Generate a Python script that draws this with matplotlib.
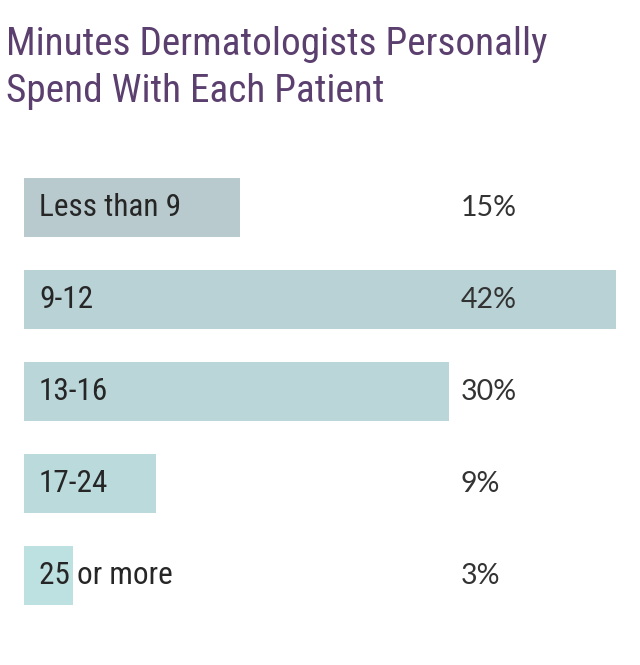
import matplotlib
matplotlib.use("Agg")
import matplotlib.pyplot as plt
from matplotlib import font_manager as fm

categories = ["Less than 9", "9-12", "13-16", "17-24", "25 or more"]
values = [15, 42, 30, 9, 3]
value_labels = ["15%", "42%", "30%", "9%", "3%"]
bar_colors = ["#b8cacd", "#b9d2d6", "#bad6d8", "#bbdadc", "#bde0e0"]
title_lines = ["Minutes Dermatologists Personally", "Spend With Each Patient"]

def pick(families):
    for f in families:
        try:
            fm.findfont(fm.FontProperties(family=f), fallback_to_default=False)
            return f
        except Exception:
            pass
    return "DejaVu Sans"

cond = pick(["Roboto Condensed", "Liberation Sans Narrow", "Roboto"])
light = pick(["Lato", "Open Sans", "Roboto"])

W, H = 640, 665
fig = plt.figure(figsize=(W / 100, H / 100), dpi=100)
fig.patch.set_facecolor("white")

top_px, bot_px = 170, 615
ax = fig.add_axes([24 / W, 1 - bot_px / H, 616 / W, (bot_px - top_px) / H])
px_per_unit = 13.92
x0 = -7.2 / px_per_unit
ax.set_xlim(x0, x0 + 616 / px_per_unit)
ax.set_ylim(4 + (615 - 575.5) / 92, -(207.5 - 170) / 92)
ax.axis("off")

ypos = list(range(len(categories)))
ax.barh(ypos, [v - x0 for v in values], left=x0, height=59 / 92, color=bar_colors)

for y, cat, lab in zip(ypos, categories, value_labels):
    ax.text((39 - 24) / 616, y, cat, transform=ax.get_yaxis_transform(),
            ha="left", va="center", fontsize=22.5, family=cond,
            color="#262626", fontweight="normal")
    ax.text((461 - 24) / 616, y, lab, transform=ax.get_yaxis_transform(),
            ha="left", va="center", fontsize=20.5, family=light,
            color="#333333", fontweight="normal")

for i, line in enumerate(title_lines):
    fig.text(6 / W, 1 - (55 + 47 * i) / H, line, ha="left", va="baseline",
             fontsize=28.3, family=cond, color="#5b3f6e")

fig.savefig("out.png", dpi=100, facecolor="white")
